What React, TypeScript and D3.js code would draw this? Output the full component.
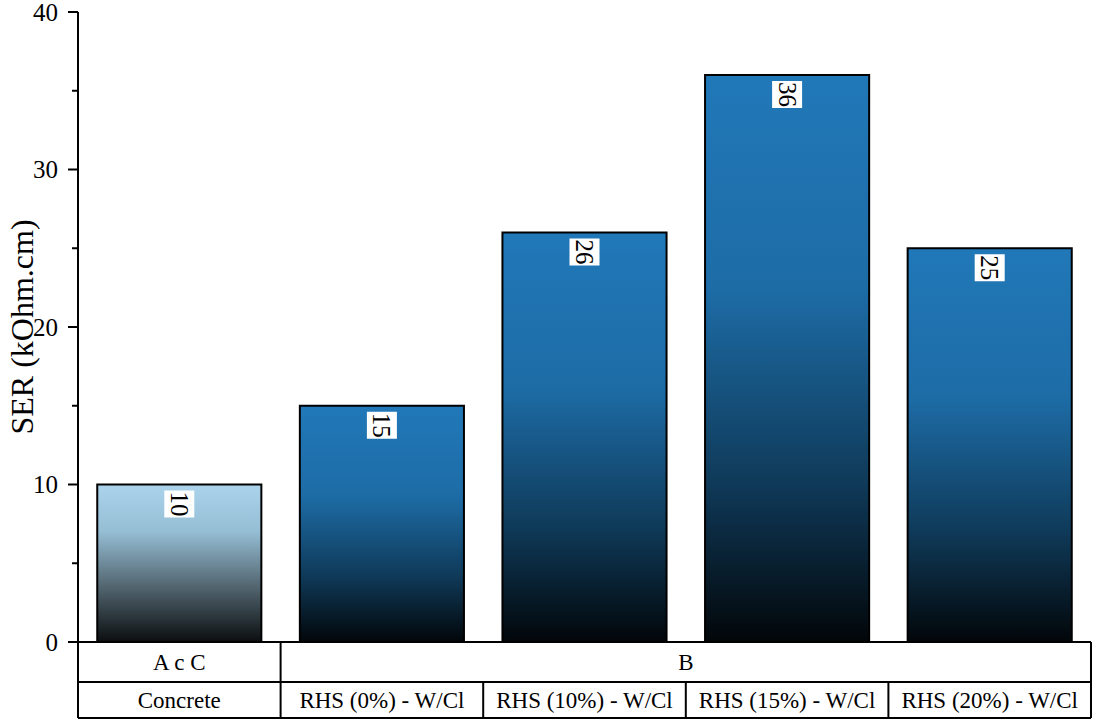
import * as d3 from "d3";

const width = 1093;
const height = 723;
const margin = { top: 12, right: 2, bottom: 81, left: 78 };

const categories = ["Concrete", "RHS (0%) - W/Cl", "RHS (10%) - W/Cl", "RHS (15%) - W/Cl", "RHS (20%) - W/Cl"];
const groups = ["A c C", "B", "B", "B", "B"];
const serValues = [10, 15, 26, 36, 25];
const majorTicks = [0, 10, 20, 30, 40];
const minorTicks = [5, 15, 25, 35];

const font = "'Liberation Serif', 'Times New Roman', serif";

const App = () => {
  const x = d3.scaleBand<string>()
    .domain(categories)
    .range([margin.left, width - margin.right])
    .paddingInner(0.19)
    .paddingOuter(0.095);
  const y = d3.scaleLinear().domain([0, 40]).range([height - margin.bottom, margin.top]);

  const y0 = y(0);
  const row1 = y0 + 40;
  const row2 = height - 5;

  // group spans for the top table row
  const spans: { label: string; start: number; end: number }[] = [];
  groups.forEach((g, i) => {
    const s = x(categories[i])! - (x.step() * x.paddingInner()) / 2;
    const e = s + x.step();
    const last = spans[spans.length - 1];
    if (last && last.label === g) last.end = e;
    else spans.push({ label: g, start: i === 0 ? margin.left : s, end: e });
  });
  spans[spans.length - 1].end = width - margin.right;

  return (
    <svg width={width} height={height} style={{ position: "absolute", left: 0, top: 0, background: "#fff" }}>
      <defs>
        <linearGradient id="gA" x1="0" y1="0" x2="0" y2="1">
          <stop offset="0%" stopColor="#abd3ec" />
          <stop offset="30%" stopColor="#95bdd4" />
          <stop offset="65%" stopColor="#52656f" />
          <stop offset="100%" stopColor="#0b0e10" />
        </linearGradient>
        <linearGradient id="gB" x1="0" y1="0" x2="0" y2="1">
          <stop offset="0%" stopColor="#2178b8" />
          <stop offset="38%" stopColor="#1d6ca6" />
          <stop offset="72%" stopColor="#0f3a59" />
          <stop offset="100%" stopColor="#020609" />
        </linearGradient>
      </defs>

      {categories.map((c, i) => {
        const bx = x(c)!;
        const by = y(serValues[i]);
        const cx = bx + x.bandwidth() / 2;
        return (
          <g key={c}>
            <rect x={bx} y={by} width={x.bandwidth()} height={y0 - by}
              fill={i === 0 ? "url(#gA)" : "url(#gB)"} stroke="#000" strokeWidth={2} />
            <rect x={cx - 15} y={by + 6} width={30} height={27} fill="#fff" />
            <text transform={`translate(${cx},${by + 19.5}) rotate(90)`} textAnchor="middle"
              dominantBaseline="central" fontFamily={font} fontSize={25} fill="#000">
              {serValues[i]}
            </text>
          </g>
        );
      })}

      {/* y axis */}
      <line x1={margin.left} x2={margin.left} y1={margin.top} y2={row2} stroke="#000" strokeWidth={2} />
      {majorTicks.map(t => (
        <g key={t}>
          <line x1={margin.left - 10} x2={margin.left} y1={y(t)} y2={y(t)} stroke="#000" strokeWidth={2} />
          <text x={margin.left - 20} y={y(t)} textAnchor="end" dominantBaseline="central"
            fontFamily={font} fontSize={25} fill="#000">{t}</text>
        </g>
      ))}
      {minorTicks.map(t => (
        <line key={t} x1={margin.left - 6} x2={margin.left} y1={y(t)} y2={y(t)} stroke="#000" strokeWidth={2} />
      ))}
      <text transform={`translate(22,${(margin.top + y0) / 2}) rotate(-90)`} textAnchor="middle"
        dominantBaseline="central" fontFamily={font} fontSize={32} fill="#000">SER (kOhm.cm)</text>

      {/* category table */}
      <line x1={margin.left - 10} x2={width - margin.right} y1={y0} y2={y0} stroke="#000" strokeWidth={2} />
      <line x1={margin.left} x2={width - margin.right} y1={row1} y2={row1} stroke="#000" strokeWidth={2} />
      <line x1={margin.left} x2={width - margin.right} y1={row2} y2={row2} stroke="#000" strokeWidth={2} />
      <line x1={width - margin.right} x2={width - margin.right} y1={y0} y2={row2} stroke="#000" strokeWidth={2} />
      {spans.map(s => (
        <g key={s.label}>
          {s.start > margin.left && (
            <line x1={s.start} x2={s.start} y1={y0} y2={row1} stroke="#000" strokeWidth={2} />
          )}
          <text x={(s.start + s.end) / 2} y={(y0 + row1) / 2} textAnchor="middle" dominantBaseline="central"
            fontFamily={font} fontSize={23} fill="#000">{s.label}</text>
        </g>
      ))}
      {categories.map((c, i) => {
        const s = i === 0 ? margin.left : x(c)! - (x.step() * x.paddingInner()) / 2;
        const e = i === categories.length - 1 ? width - margin.right : s + x.step();
        return (
          <g key={c}>
            {i > 0 && <line x1={s} x2={s} y1={row1} y2={row2} stroke="#000" strokeWidth={2} />}
            <text x={(s + e) / 2} y={(row1 + row2) / 2} textAnchor="middle" dominantBaseline="central"
              fontFamily={font} fontSize={23} fill="#000">{c}</text>
          </g>
        );
      })}
    </svg>
  );
};

export default App;
